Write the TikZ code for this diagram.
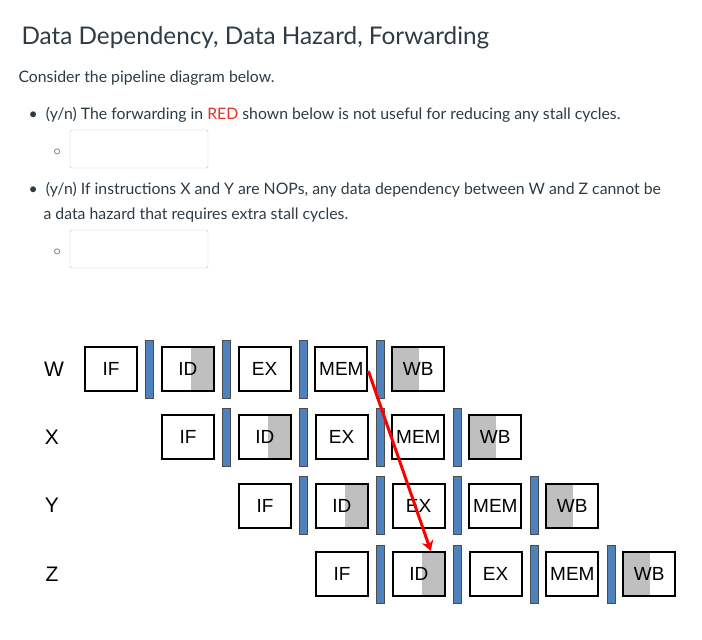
\documentclass[tikz,border=0pt]{standalone}
\usepackage{fontspec}
\usetikzlibrary{arrows.meta}
\setmainfont{Lato}
\newfontfamily\arial{Liberation Sans}
\definecolor{barblue}{HTML}{4F81BD}
\definecolor{redtxt}{HTML}{E0312B}
\definecolor{txt}{HTML}{2D3B45}
\begin{document}
\begin{tikzpicture}[x=1pt,y=-1pt,
  stg/.style={draw=black,line width=2pt,minimum width=52pt,minimum height=44pt,inner sep=0pt,font=\arial\fontsize{19}{19}\selectfont},
  bar/.style={fill=barblue,draw=black!70,line width=0.5pt,minimum width=8pt,minimum height=58pt,inner sep=0pt},
  inbox/.style={draw=black!25,rounded corners=2pt,minimum width=138pt,minimum height=38pt,inner sep=0pt},
  rowlbl/.style={font=\arial\fontsize{21}{21}\selectfont},
  para/.style={anchor=west,text=txt,font=\fontsize{15.8}{19}\selectfont}]
\useasboundingbox (0,0) rectangle (702,640);
\node[anchor=west,text=txt,font=\fontsize{24.3}{27}\selectfont] (title) at (18,38) {Data Dependency, Data Hazard, Forwarding};
\node[para] (p1) at (15,78) {Consider the pipeline diagram below.};
\node[para] (b1) at (25,115) {\textbullet\ \ (y/n) The forwarding in \textcolor{redtxt}{RED} shown below is not useful for reducing any stall cycles.};
\node[para] (c1) at (50,152) {$\circ$};
\node[inbox] (i1) at (139,149) {};
\node[para] (b2) at (25,190) {\textbullet\ \ (y/n) If instructions X and Y are NOPs, any data dependency between W and Z cannot be};
\node[para] (b2b) at (40,215) {a data hazard that requires extra stall cycles.};
\node[para] (c2) at (50,252) {$\circ$};
\node[inbox] (i2) at (139,249) {};
\foreach \lbl/\r/\lx in {W/0/54,X/1/52,Y/2/52,Z/3/52}{
  \pgfmathsetmacro\yy{369+68.3*\r}
  \pgfmathsetmacro\xo{111+77*\r}
  \node[rowlbl] (L\lbl) at (\lx,\yy) {\lbl};
  \foreach \s/\n in {0/IF,1/ID,2/EX,3/MEM,4/WB}{
    \pgfmathsetmacro\xx{\xo+76.8*\s}
    \ifnum\s=1
      \fill[black!25] (\xx+3,\yy-22) rectangle (\xx+26,\yy+22);
    \fi
    \ifnum\s=4
      \fill[black!25] (\xx-26,\yy-22) rectangle (\xx+1,\yy+22);
    \fi
    \node[stg] (S\lbl\s) at (\xx,\yy) {\n};
    \ifnum\s>0
      \node[bar] (B\lbl\s) at (\xx-38.4,\yy) {};
    \fi
  }
}
\draw[red,line width=3pt,-{Stealth[length=10pt,width=12pt]}] ([yshift=-2pt]SW3.east) -- ([xshift=12pt]SZ1.north);
\end{tikzpicture}
\end{document}
